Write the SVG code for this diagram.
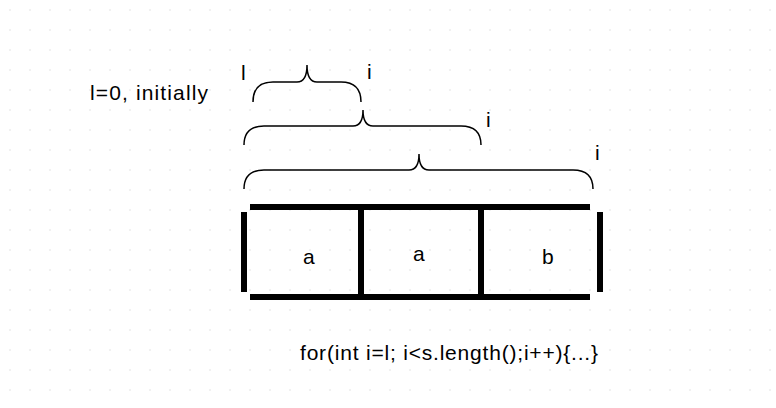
<svg xmlns="http://www.w3.org/2000/svg" width="776" height="408" viewBox="0 0 776 408">
<style>
text{font-family:"Liberation Sans",Arial,sans-serif;font-size:21px;fill:#000}
.b{fill:none;stroke:#000;stroke-width:1.5}
.t{stroke:#000;stroke-width:6;fill:none}
</style>
<defs><pattern id="d" width="20" height="20" patternUnits="userSpaceOnUse" x="0" y="0"><rect x="9.5" y="9.5" width="1" height="1" fill="#c8c8c8"/></pattern></defs>
<rect width="776" height="408" fill="#fff"/>
<rect width="776" height="408" fill="url(#d)"/>
<g id="label-init"><text x="90" y="100" textLength="118" lengthAdjust="spacing">l=0, initially</text></g>
<g id="brace1"><path class="b" d="M253,102 Q253,82 273,82 L297,82 Q307,82 307,65 Q307,82 317,82 L341,82 Q361,82 361,102"/><text x="241" y="80">l</text><text x="367" y="79">i</text></g>
<g id="brace2"><path class="b" d="M244,145 Q244,126 264,126 L353,126 Q363,126 363,110 Q363,126 373,126 L461,126 Q481,126 481,145"/><text x="486" y="127">i</text></g>
<g id="brace3"><path class="b" d="M244,189 Q244,170 264,170 L409,170 Q419,170 419,154 Q419,170 429,170 L573,170 Q593,170 593,189"/><text x="595" y="160">i</text></g>
<g id="array">
<line class="t" x1="250" y1="207" x2="590" y2="207"/>
<line class="t" x1="250" y1="297" x2="590" y2="297"/>
<line class="t" x1="244" y1="212" x2="244" y2="292"/>
<line class="t" x1="600" y1="212" x2="600" y2="292"/>
<line class="t" x1="361" y1="207" x2="361" y2="297"/>
<line class="t" x1="481" y1="207" x2="481" y2="297"/>
<text x="303" y="264">a</text><text x="413" y="261">a</text><text x="542" y="264">b</text>
</g>
<g id="code"><text x="300" y="360" textLength="298" lengthAdjust="spacing">for(int i=l; i&lt;s.length();i++){...}</text></g>
</svg>
